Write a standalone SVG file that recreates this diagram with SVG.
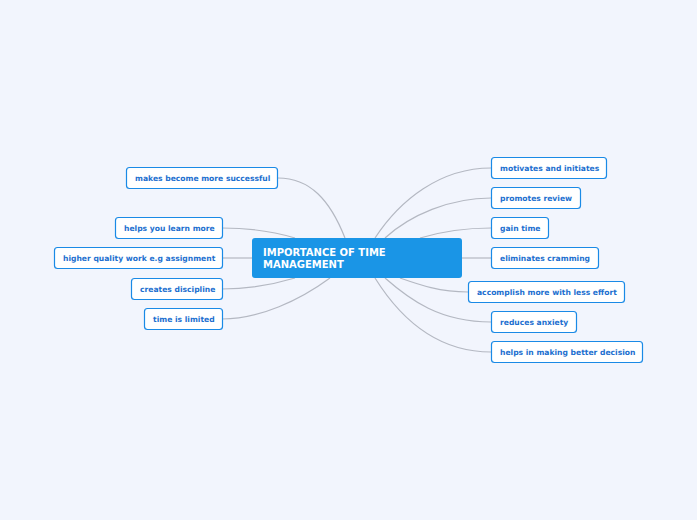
<svg xmlns="http://www.w3.org/2000/svg" width="697" height="520" viewBox="0 0 697 520">
<style>
.n rect{fill:#fff;stroke:#1a8ae6;stroke-width:1.2}
.n text{font-family:Verdana,"DejaVu Sans",sans-serif;font-size:7.6px;font-weight:bold;fill:#1c6fcf}
.c path{fill:none;stroke:#b4b8c2;stroke-width:1.2}
</style>
<rect width="697" height="520" fill="#f2f5fd"/>
<g class="c">
<path d="M278,178 C310,178 330,200 345,238"/>
<path d="M222,228 C250,228 275,232 295,238"/>
<path d="M222,258 L252,258"/>
<path d="M222,289 C250,289 275,284 295,278"/>
<path d="M222,319 C260,319 300,300 330,278"/>
<path d="M491,168 C440,168 400,200 375,238"/>
<path d="M491,198 C450,198 410,215 385,238"/>
<path d="M491,228 C460,228 440,232 420,238"/>
<path d="M462,258 L491,258"/>
<path d="M468,292 C440,292 420,285 400,278"/>
<path d="M491,322 C440,322 410,300 385,278"/>
<path d="M491,352 C430,352 395,310 375,278"/>
</g>
<g id="center"><rect x="252" y="238" width="210" height="40" rx="3" fill="#1a95e6"/>
<text x="263" y="256" font-family="Verdana,'DejaVu Sans',sans-serif" font-size="10px" font-weight="bold" fill="#fff">IMPORTANCE OF TIME</text>
<text x="263" y="268" font-family="Verdana,'DejaVu Sans',sans-serif" font-size="10px" font-weight="bold" fill="#fff">MANAGEMENT</text></g>
<g id="n1" class="n"><rect x="126.5" y="167.5" width="151" height="21" rx="3"/><text x="135" y="181">makes become more successful</text></g>
<g id="n2" class="n"><rect x="115.5" y="217.5" width="107" height="21" rx="3"/><text x="124" y="231">helps you learn more</text></g>
<g id="n3" class="n"><rect x="54.5" y="247.5" width="168" height="21" rx="3"/><text x="63" y="261">higher quality work e.g assignment</text></g>
<g id="n4" class="n"><rect x="131.5" y="278.5" width="91" height="21" rx="3"/><text x="140" y="292">creates discipline</text></g>
<g id="n5" class="n"><rect x="144.5" y="308.5" width="78" height="21" rx="3"/><text x="153" y="322">time is limited</text></g>
<g id="n6" class="n"><rect x="491.5" y="157.5" width="115" height="21" rx="3"/><text x="500" y="171">motivates and initiates</text></g>
<g id="n7" class="n"><rect x="491.5" y="187.5" width="89" height="21" rx="3"/><text x="500" y="201">promotes review</text></g>
<g id="n8" class="n"><rect x="491.5" y="217.5" width="57" height="21" rx="3"/><text x="500" y="231">gain time</text></g>
<g id="n9" class="n"><rect x="491.5" y="247.5" width="107" height="21" rx="3"/><text x="500" y="261">eliminates cramming</text></g>
<g id="n10" class="n"><rect x="468.5" y="281.5" width="156" height="21" rx="3"/><text x="477" y="295">accomplish more with less effort</text></g>
<g id="n11" class="n"><rect x="491.5" y="311.5" width="85" height="21" rx="3"/><text x="500" y="325">reduces anxiety</text></g>
<g id="n12" class="n"><rect x="491.5" y="341.5" width="151" height="21" rx="3"/><text x="500" y="355">helps in making better decision</text></g>
</svg>
